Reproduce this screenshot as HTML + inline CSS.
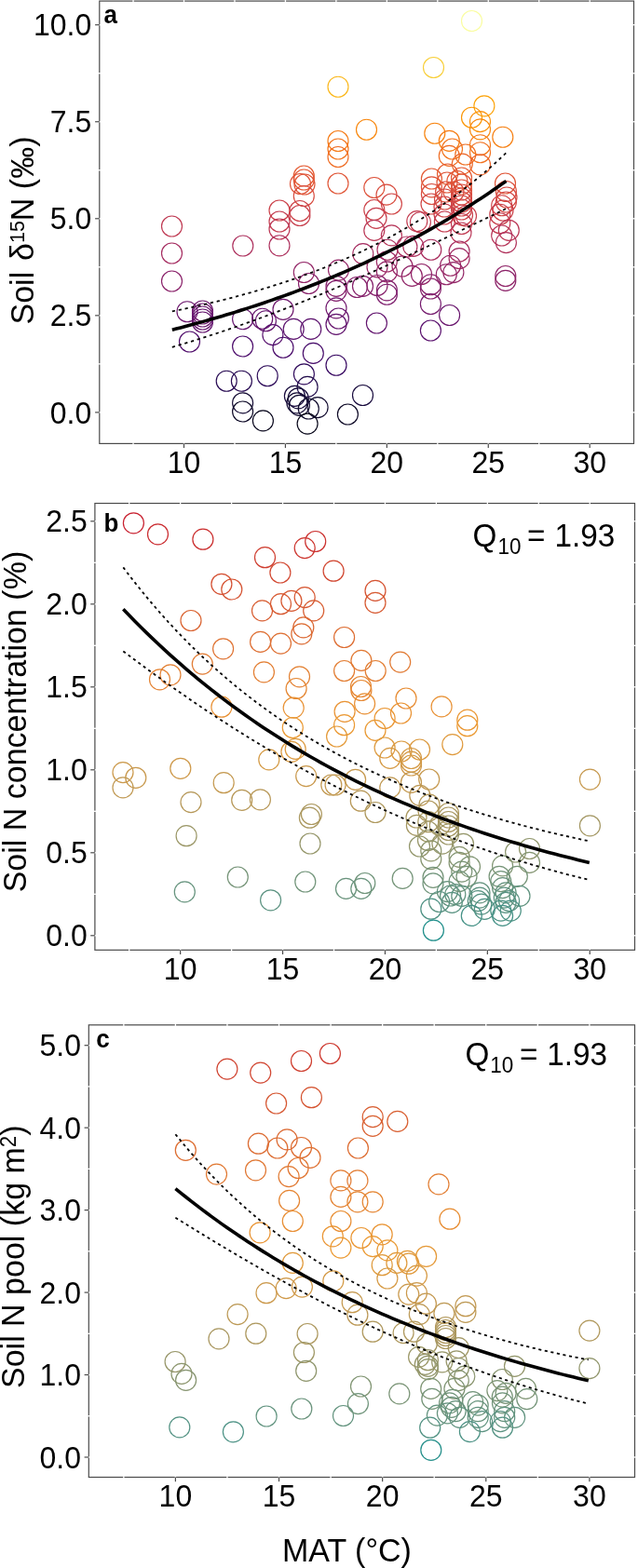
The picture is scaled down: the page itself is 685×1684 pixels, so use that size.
<!DOCTYPE html>
<html><head><meta charset="utf-8"><title>Soil N vs MAT</title>
<style>html,body{margin:0;padding:0;background:#fff;}body{width:685px;height:1684px;overflow:hidden;}</style>
</head><body>
<svg width="685" height="1684" viewBox="0 0 685 1684" style="display:block">
<rect width="685" height="1684" fill="#ffffff"/>
<g fill="none" stroke-width="1.15" stroke-opacity="1.00">
<circle cx="506.5" cy="22.5" r="11.0" stroke="#fafda1"/>
<circle cx="465.5" cy="72.5" r="11.0" stroke="#f8cf3a"/>
<circle cx="363.0" cy="93.2" r="11.0" stroke="#fbb81d"/>
<circle cx="393.5" cy="139.2" r="11.0" stroke="#f8870e"/>
<circle cx="363.0" cy="151.5" r="11.0" stroke="#f57b17"/>
<circle cx="363.0" cy="160.0" r="11.0" stroke="#f2741c"/>
<circle cx="363.0" cy="168.5" r="11.0" stroke="#ef6c23"/>
<circle cx="363.0" cy="197.0" r="11.0" stroke="#e05536"/>
<circle cx="466.8" cy="143.2" r="11.0" stroke="#f78410"/>
<circle cx="482.3" cy="151.3" r="11.0" stroke="#f57d15"/>
<circle cx="485.5" cy="160.0" r="11.0" stroke="#f2741c"/>
<circle cx="482.3" cy="167.4" r="11.0" stroke="#ef6c23"/>
<circle cx="499.8" cy="166.0" r="11.0" stroke="#ef6e21"/>
<circle cx="496.3" cy="176.1" r="11.0" stroke="#eb6628"/>
<circle cx="519.9" cy="113.8" r="11.0" stroke="#fca309"/>
<circle cx="506.5" cy="126.2" r="11.0" stroke="#fb9606"/>
<circle cx="515.5" cy="130.6" r="11.0" stroke="#fa9008"/>
<circle cx="515.5" cy="138.9" r="11.0" stroke="#f8890c"/>
<circle cx="539.8" cy="147.2" r="11.0" stroke="#f68013"/>
<circle cx="515.5" cy="155.7" r="11.0" stroke="#f37819"/>
<circle cx="515.5" cy="163.7" r="11.0" stroke="#f1711f"/>
<circle cx="515.5" cy="176.9" r="11.0" stroke="#eb6429"/>
<circle cx="326.3" cy="189.0" r="11.0" stroke="#e45a31"/>
<circle cx="326.3" cy="193.0" r="11.0" stroke="#e25734"/>
<circle cx="322.5" cy="197.5" r="11.0" stroke="#df5337"/>
<circle cx="327.0" cy="198.0" r="11.0" stroke="#df5337"/>
<circle cx="326.3" cy="210.5" r="11.0" stroke="#d74b3f"/>
<circle cx="321.9" cy="226.5" r="11.0" stroke="#cb4149"/>
<circle cx="321.9" cy="231.5" r="11.0" stroke="#c73e4c"/>
<circle cx="300.0" cy="226.0" r="11.0" stroke="#cb4149"/>
<circle cx="300.0" cy="238.0" r="11.0" stroke="#c33b4f"/>
<circle cx="300.0" cy="246.0" r="11.0" stroke="#bc3754"/>
<circle cx="300.0" cy="263.8" r="11.0" stroke="#ad305d"/>
<circle cx="260.8" cy="264.0" r="11.0" stroke="#ad305d"/>
<circle cx="184.5" cy="243.0" r="11.0" stroke="#bf3952"/>
<circle cx="184.5" cy="272.0" r="11.0" stroke="#a52c60"/>
<circle cx="184.5" cy="302.0" r="11.0" stroke="#8a226a"/>
<circle cx="401.8" cy="201.5" r="11.0" stroke="#dd513a"/>
<circle cx="415.0" cy="209.1" r="11.0" stroke="#d84c3e"/>
<circle cx="420.4" cy="219.0" r="11.0" stroke="#d04545"/>
<circle cx="401.8" cy="225.5" r="11.0" stroke="#cc4248"/>
<circle cx="404.0" cy="234.3" r="11.0" stroke="#c63d4d"/>
<circle cx="401.8" cy="247.4" r="11.0" stroke="#ba3655"/>
<circle cx="420.4" cy="252.9" r="11.0" stroke="#b63458"/>
<circle cx="389.8" cy="272.6" r="11.0" stroke="#a52c60"/>
<circle cx="416.0" cy="268.2" r="11.0" stroke="#a92e5e"/>
<circle cx="436.9" cy="265.0" r="11.0" stroke="#ab2f5e"/>
<circle cx="447.8" cy="237.6" r="11.0" stroke="#c33b4f"/>
<circle cx="326.3" cy="292.5" r="11.0" stroke="#932667"/>
<circle cx="363.5" cy="290.1" r="11.0" stroke="#952667"/>
<circle cx="405.0" cy="286.8" r="11.0" stroke="#982766"/>
<circle cx="415.3" cy="281.0" r="11.0" stroke="#9d2964"/>
<circle cx="432.0" cy="286.0" r="11.0" stroke="#982766"/>
<circle cx="463.4" cy="192.0" r="11.0" stroke="#e35933"/>
<circle cx="463.4" cy="200.8" r="11.0" stroke="#de5238"/>
<circle cx="463.4" cy="208.5" r="11.0" stroke="#d84c3e"/>
<circle cx="463.0" cy="219.0" r="11.0" stroke="#d04545"/>
<circle cx="451.4" cy="238.7" r="11.0" stroke="#c13a50"/>
<circle cx="443.8" cy="264.4" r="11.0" stroke="#ad305d"/>
<circle cx="462.8" cy="268.2" r="11.0" stroke="#a92e5e"/>
<circle cx="480.5" cy="187.0" r="11.0" stroke="#e55c30"/>
<circle cx="480.0" cy="196.0" r="11.0" stroke="#e05536"/>
<circle cx="478.6" cy="206.0" r="11.0" stroke="#da4e3c"/>
<circle cx="477.5" cy="214.0" r="11.0" stroke="#d44842"/>
<circle cx="477.0" cy="222.0" r="11.0" stroke="#cf4446"/>
<circle cx="477.0" cy="230.0" r="11.0" stroke="#c83f4b"/>
<circle cx="477.4" cy="238.0" r="11.0" stroke="#c33b4f"/>
<circle cx="487.0" cy="206.0" r="11.0" stroke="#da4e3c"/>
<circle cx="490.9" cy="194.5" r="11.0" stroke="#e15635"/>
<circle cx="495.5" cy="191.0" r="11.0" stroke="#e35933"/>
<circle cx="495.5" cy="198.0" r="11.0" stroke="#df5337"/>
<circle cx="495.5" cy="204.0" r="11.0" stroke="#db503b"/>
<circle cx="495.5" cy="209.0" r="11.0" stroke="#d84c3e"/>
<circle cx="495.5" cy="213.0" r="11.0" stroke="#d54a41"/>
<circle cx="495.5" cy="217.0" r="11.0" stroke="#d24644"/>
<circle cx="495.5" cy="221.0" r="11.0" stroke="#cf4446"/>
<circle cx="495.5" cy="225.0" r="11.0" stroke="#cc4248"/>
<circle cx="496.5" cy="231.0" r="11.0" stroke="#c83f4b"/>
<circle cx="500.5" cy="232.0" r="11.0" stroke="#c73e4c"/>
<circle cx="495.5" cy="240.5" r="11.0" stroke="#c03a51"/>
<circle cx="495.0" cy="250.0" r="11.0" stroke="#b93556"/>
<circle cx="542.5" cy="197.0" r="11.0" stroke="#e05536"/>
<circle cx="543.4" cy="205.5" r="11.0" stroke="#da4e3c"/>
<circle cx="544.0" cy="212.0" r="11.0" stroke="#d54a41"/>
<circle cx="543.4" cy="217.0" r="11.0" stroke="#d24644"/>
<circle cx="538.7" cy="220.7" r="11.0" stroke="#cf4446"/>
<circle cx="540.0" cy="226.0" r="11.0" stroke="#cb4149"/>
<circle cx="536.8" cy="230.2" r="11.0" stroke="#c83f4b"/>
<circle cx="536.8" cy="239.7" r="11.0" stroke="#c13a50"/>
<circle cx="546.3" cy="247.3" r="11.0" stroke="#ba3655"/>
<circle cx="538.7" cy="253.0" r="11.0" stroke="#b63458"/>
<circle cx="543.4" cy="260.6" r="11.0" stroke="#b0315b"/>
<circle cx="493.1" cy="270.0" r="11.0" stroke="#a62d60"/>
<circle cx="493.1" cy="277.6" r="11.0" stroke="#a02a63"/>
<circle cx="483.6" cy="285.2" r="11.0" stroke="#9a2865"/>
<circle cx="542.8" cy="296.5" r="11.0" stroke="#902568"/>
<circle cx="542.8" cy="301.3" r="11.0" stroke="#8c2369"/>
<circle cx="462.4" cy="355.0" r="11.0" stroke="#5a116e"/>
<circle cx="482.6" cy="338.5" r="11.0" stroke="#6a176e"/>
<circle cx="462.4" cy="326.5" r="11.0" stroke="#751b6e"/>
<circle cx="462.4" cy="310.0" r="11.0" stroke="#84206b"/>
<circle cx="462.4" cy="305.7" r="11.0" stroke="#87216b"/>
<circle cx="452.5" cy="294.5" r="11.0" stroke="#922568"/>
<circle cx="442.3" cy="296.3" r="11.0" stroke="#902568"/>
<circle cx="479.3" cy="294.7" r="11.0" stroke="#922568"/>
<circle cx="486.9" cy="292.6" r="11.0" stroke="#932667"/>
<circle cx="361.0" cy="307.3" r="11.0" stroke="#85216b"/>
<circle cx="361.0" cy="312.3" r="11.0" stroke="#82206c"/>
<circle cx="361.0" cy="330.9" r="11.0" stroke="#71196e"/>
<circle cx="363.4" cy="342.0" r="11.0" stroke="#67166e"/>
<circle cx="361.0" cy="348.3" r="11.0" stroke="#61136e"/>
<circle cx="383.3" cy="308.5" r="11.0" stroke="#85216b"/>
<circle cx="389.5" cy="307.3" r="11.0" stroke="#85216b"/>
<circle cx="405.0" cy="306.5" r="11.0" stroke="#87216b"/>
<circle cx="415.4" cy="291.9" r="11.0" stroke="#932667"/>
<circle cx="415.4" cy="311.8" r="11.0" stroke="#82206c"/>
<circle cx="415.4" cy="316.2" r="11.0" stroke="#7d1e6d"/>
<circle cx="404.4" cy="347.0" r="11.0" stroke="#62146e"/>
<circle cx="361.0" cy="392.2" r="11.0" stroke="#380962"/>
<circle cx="389.5" cy="424.5" r="11.0" stroke="#190c3e"/>
<circle cx="373.4" cy="445.0" r="11.0" stroke="#0b0724"/>
<circle cx="341.1" cy="437.6" r="11.0" stroke="#10092d"/>
<circle cx="201.0" cy="334.7" r="11.0" stroke="#6d186e"/>
<circle cx="217.5" cy="334.0" r="11.0" stroke="#6d186e"/>
<circle cx="217.5" cy="337.0" r="11.0" stroke="#6c186e"/>
<circle cx="217.5" cy="340.0" r="11.0" stroke="#69166e"/>
<circle cx="217.5" cy="343.0" r="11.0" stroke="#65156e"/>
<circle cx="217.5" cy="346.0" r="11.0" stroke="#64156e"/>
<circle cx="203.5" cy="367.0" r="11.0" stroke="#510e6c"/>
<circle cx="260.6" cy="342.7" r="11.0" stroke="#65156e"/>
<circle cx="260.6" cy="372.0" r="11.0" stroke="#4c0c6b"/>
<circle cx="281.7" cy="342.2" r="11.0" stroke="#67166e"/>
<circle cx="285.4" cy="344.7" r="11.0" stroke="#64156e"/>
<circle cx="304.0" cy="332.3" r="11.0" stroke="#6f196e"/>
<circle cx="292.9" cy="359.6" r="11.0" stroke="#57106e"/>
<circle cx="315.2" cy="353.4" r="11.0" stroke="#5c126e"/>
<circle cx="304.0" cy="373.2" r="11.0" stroke="#4a0c6b"/>
<circle cx="333.8" cy="353.4" r="11.0" stroke="#5c126e"/>
<circle cx="336.3" cy="379.4" r="11.0" stroke="#450a69"/>
<circle cx="331.5" cy="304.5" r="11.0" stroke="#88226a"/>
<circle cx="243.2" cy="409.2" r="11.0" stroke="#280b53"/>
<circle cx="259.4" cy="409.2" r="11.0" stroke="#280b53"/>
<circle cx="287.2" cy="403.7" r="11.0" stroke="#2d0b59"/>
<circle cx="260.6" cy="432.8" r="11.0" stroke="#140b34"/>
<circle cx="260.6" cy="442.0" r="11.0" stroke="#0c0826"/>
<circle cx="282.4" cy="451.9" r="11.0" stroke="#07051b"/>
<circle cx="326.4" cy="401.8" r="11.0" stroke="#2f0a5b"/>
<circle cx="330.1" cy="415.4" r="11.0" stroke="#210c4a"/>
<circle cx="316.4" cy="425.3" r="11.0" stroke="#190c3e"/>
<circle cx="320.2" cy="427.8" r="11.0" stroke="#160b39"/>
<circle cx="318.9" cy="432.8" r="11.0" stroke="#140b34"/>
<circle cx="321.4" cy="435.3" r="11.0" stroke="#110a30"/>
<circle cx="331.3" cy="439.0" r="11.0" stroke="#0e092b"/>
<circle cx="330.1" cy="455.1" r="11.0" stroke="#050417"/>
</g>
<polyline fill="none" stroke="#000" stroke-width="1.75" stroke-dasharray="3.2 3.8" points="184.86,334.39 189.35,333.48 193.83,332.56 198.31,331.62 202.79,330.67 207.28,329.69 211.76,328.70 216.24,327.69 220.72,326.65 225.21,325.60 229.69,324.53 234.17,323.44 238.65,322.33 243.13,321.19 247.62,320.04 252.10,318.86 256.58,317.66 261.06,316.44 265.55,315.20 270.03,313.93 274.51,312.63 278.99,311.32 283.47,309.97 287.96,308.60 292.44,307.21 296.92,305.79 301.40,304.34 305.89,302.87 310.37,301.36 314.85,299.83 319.33,298.27 323.81,296.67 328.30,295.05 332.78,293.40 337.26,291.71 341.74,289.99 346.23,288.24 350.71,286.46 355.19,284.64 359.67,282.78 364.16,280.89 368.64,278.96 373.12,276.99 377.60,274.99 382.08,272.95 386.57,270.86 391.05,268.74 395.53,266.57 400.01,264.36 404.50,262.11 408.98,259.81 413.46,257.47 417.94,255.08 422.42,252.64 426.91,250.15 431.39,247.62 435.87,245.03 440.35,242.39 444.84,239.70 449.32,236.95 453.80,234.15 458.28,231.29 462.77,228.38 467.25,225.40 471.73,222.36 476.21,219.26 480.69,216.10 485.18,212.87 489.66,209.58 494.14,206.21 498.62,202.78 503.11,199.28 507.59,195.70 512.07,192.05 516.55,188.32 521.03,184.52 525.52,180.63 530.00,176.66 534.48,172.61 538.96,168.47 543.45,164.25"/>
<polyline fill="none" stroke="#000" stroke-width="1.75" stroke-dasharray="3.2 3.8" points="184.86,372.81 189.35,371.50 193.83,370.17 198.31,368.82 202.79,367.46 207.28,366.09 211.76,364.69 216.24,363.28 220.72,361.85 225.21,360.41 229.69,358.95 234.17,357.47 238.65,355.98 243.13,354.47 247.62,352.94 252.10,351.40 256.58,349.84 261.06,348.26 265.55,346.67 270.03,345.06 274.51,343.44 278.99,341.80 283.47,340.14 287.96,338.47 292.44,336.79 296.92,335.08 301.40,333.37 305.89,331.63 310.37,329.88 314.85,328.12 319.33,326.34 323.81,324.55 328.30,322.74 332.78,320.92 337.26,319.09 341.74,317.24 346.23,315.37 350.71,313.50 355.19,311.61 359.67,309.70 364.16,307.79 368.64,305.86 373.12,303.92 377.60,301.96 382.08,300.00 386.57,298.02 391.05,296.03 395.53,294.04 400.01,292.03 404.50,290.00 408.98,287.97 413.46,285.93 417.94,283.88 422.42,281.82 426.91,279.76 431.39,277.68 435.87,275.60 440.35,273.50 444.84,271.40 449.32,269.29 453.80,267.18 458.28,265.06 462.77,262.93 467.25,260.80 471.73,258.66 476.21,256.52 480.69,254.38 485.18,252.23 489.66,250.07 494.14,247.92 498.62,245.76 503.11,243.59 507.59,241.43 512.07,239.27 516.55,237.10 521.03,234.93 525.52,232.77 530.00,230.60 534.48,228.44 538.96,226.28 543.45,224.11"/>
<polyline fill="none" stroke="#000" stroke-width="3.6" points="184.86,354.25 189.35,353.10 193.83,351.93 198.31,350.75 202.79,349.56 207.28,348.35 211.76,347.12 216.24,345.88 220.72,344.62 225.21,343.35 229.69,342.06 234.17,340.75 238.65,339.43 243.13,338.09 247.62,336.73 252.10,335.35 256.58,333.96 261.06,332.54 265.55,331.11 270.03,329.66 274.51,328.19 278.99,326.71 283.47,325.20 287.96,323.67 292.44,322.13 296.92,320.56 301.40,318.98 305.89,317.37 310.37,315.74 314.85,314.09 319.33,312.42 323.81,310.73 328.30,309.02 332.78,307.28 337.26,305.52 341.74,303.74 346.23,301.94 350.71,300.11 355.19,298.26 359.67,296.39 364.16,294.49 368.64,292.56 373.12,290.61 377.60,288.64 382.08,286.64 386.57,284.61 391.05,282.56 395.53,280.48 400.01,278.37 404.50,276.24 408.98,274.08 413.46,271.89 417.94,269.67 422.42,267.43 426.91,265.15 431.39,262.85 435.87,260.51 440.35,258.15 444.84,255.75 449.32,253.33 453.80,250.87 458.28,248.38 462.77,245.86 467.25,243.30 471.73,240.72 476.21,238.09 480.69,235.44 485.18,232.75 489.66,230.03 494.14,227.27 498.62,224.47 503.11,221.64 507.59,218.77 512.07,215.86 516.55,212.92 521.03,209.94 525.52,206.92 530.00,203.86 534.48,200.76 538.96,197.62 543.45,194.44"/>
<rect x="106.80" y="1.10" width="573.70" height="475.30" fill="none" stroke="#4a4a4a" stroke-width="1.2"/>
<g stroke="#fff" stroke-width="1.3">
<line x1="143.04" y1="-0.10" x2="143.04" y2="2.30"/>
<line x1="143.04" y1="475.20" x2="143.04" y2="477.60"/>
<line x1="197.50" y1="-0.10" x2="197.50" y2="2.30"/>
<line x1="197.50" y1="475.20" x2="197.50" y2="477.60"/>
<line x1="251.96" y1="-0.10" x2="251.96" y2="2.30"/>
<line x1="251.96" y1="475.20" x2="251.96" y2="477.60"/>
<line x1="306.43" y1="-0.10" x2="306.43" y2="2.30"/>
<line x1="306.43" y1="475.20" x2="306.43" y2="477.60"/>
<line x1="360.89" y1="-0.10" x2="360.89" y2="2.30"/>
<line x1="360.89" y1="475.20" x2="360.89" y2="477.60"/>
<line x1="415.35" y1="-0.10" x2="415.35" y2="2.30"/>
<line x1="415.35" y1="475.20" x2="415.35" y2="477.60"/>
<line x1="469.81" y1="-0.10" x2="469.81" y2="2.30"/>
<line x1="469.81" y1="475.20" x2="469.81" y2="477.60"/>
<line x1="524.27" y1="-0.10" x2="524.27" y2="2.30"/>
<line x1="524.27" y1="475.20" x2="524.27" y2="477.60"/>
<line x1="578.74" y1="-0.10" x2="578.74" y2="2.30"/>
<line x1="578.74" y1="475.20" x2="578.74" y2="477.60"/>
<line x1="633.20" y1="-0.10" x2="633.20" y2="2.30"/>
<line x1="633.20" y1="475.20" x2="633.20" y2="477.60"/>
<line x1="105.60" y1="442.90" x2="108.00" y2="442.90"/>
<line x1="679.30" y1="442.90" x2="681.70" y2="442.90"/>
<line x1="105.60" y1="390.88" x2="108.00" y2="390.88"/>
<line x1="679.30" y1="390.88" x2="681.70" y2="390.88"/>
<line x1="105.60" y1="338.85" x2="108.00" y2="338.85"/>
<line x1="679.30" y1="338.85" x2="681.70" y2="338.85"/>
<line x1="105.60" y1="286.82" x2="108.00" y2="286.82"/>
<line x1="679.30" y1="286.82" x2="681.70" y2="286.82"/>
<line x1="105.60" y1="234.80" x2="108.00" y2="234.80"/>
<line x1="679.30" y1="234.80" x2="681.70" y2="234.80"/>
<line x1="105.60" y1="182.77" x2="108.00" y2="182.77"/>
<line x1="679.30" y1="182.77" x2="681.70" y2="182.77"/>
<line x1="105.60" y1="130.75" x2="108.00" y2="130.75"/>
<line x1="679.30" y1="130.75" x2="681.70" y2="130.75"/>
<line x1="105.60" y1="78.73" x2="108.00" y2="78.73"/>
<line x1="679.30" y1="78.73" x2="681.70" y2="78.73"/>
<line x1="105.60" y1="26.70" x2="108.00" y2="26.70"/>
<line x1="679.30" y1="26.70" x2="681.70" y2="26.70"/>
</g>
<g stroke="#4a4a4a" stroke-width="1.2">
<line x1="197.50" y1="476.40" x2="197.50" y2="481.10"/>
<line x1="306.43" y1="476.40" x2="306.43" y2="481.10"/>
<line x1="415.35" y1="476.40" x2="415.35" y2="481.10"/>
<line x1="524.27" y1="476.40" x2="524.27" y2="481.10"/>
<line x1="633.20" y1="476.40" x2="633.20" y2="481.10"/>
<line x1="102.10" y1="442.90" x2="106.80" y2="442.90"/>
<line x1="102.10" y1="338.85" x2="106.80" y2="338.85"/>
<line x1="102.10" y1="234.80" x2="106.80" y2="234.80"/>
<line x1="102.10" y1="130.75" x2="106.80" y2="130.75"/>
<line x1="102.10" y1="26.70" x2="106.80" y2="26.70"/>
</g>
<g font-family='"Liberation Sans", Arial, Helvetica, sans-serif' font-size="32" fill="#000">
<text transform="translate(197.50,508.20) scale(0.9569,1)" font-size="33.44" text-anchor="middle">10</text>
<text transform="translate(306.43,508.20) scale(0.9569,1)" font-size="33.44" text-anchor="middle">15</text>
<text transform="translate(415.35,508.20) scale(0.9569,1)" font-size="33.44" text-anchor="middle">20</text>
<text transform="translate(524.27,508.20) scale(0.9569,1)" font-size="33.44" text-anchor="middle">25</text>
<text transform="translate(633.20,508.20) scale(0.9569,1)" font-size="33.44" text-anchor="middle">30</text>
<text transform="translate(98.20,454.50) scale(0.9569,1)" font-size="33.44" text-anchor="end">0.0</text>
<text transform="translate(98.20,350.45) scale(0.9569,1)" font-size="33.44" text-anchor="end">2.5</text>
<text transform="translate(98.20,246.40) scale(0.9569,1)" font-size="33.44" text-anchor="end">5.0</text>
<text transform="translate(98.20,142.35) scale(0.9569,1)" font-size="33.44" text-anchor="end">7.5</text>
<text transform="translate(98.20,38.30) scale(0.9569,1)" font-size="33.44" text-anchor="end">10.0</text>
</g>
<g fill="none" stroke-width="1.20" stroke-opacity="1.00">
<circle cx="143.4" cy="561.8" r="11.0" stroke="#c8202f"/>
<circle cx="169.5" cy="573.8" r="11.0" stroke="#ca2b2f"/>
<circle cx="217.9" cy="579.2" r="11.0" stroke="#cb3030"/>
<circle cx="284.5" cy="598.7" r="11.0" stroke="#cf3e30"/>
<circle cx="300.9" cy="615.0" r="11.0" stroke="#d24831"/>
<circle cx="237.9" cy="627.3" r="11.0" stroke="#d44f31"/>
<circle cx="248.8" cy="633.0" r="11.0" stroke="#d55231"/>
<circle cx="327.2" cy="588.6" r="11.0" stroke="#cd3730"/>
<circle cx="338.7" cy="581.5" r="11.0" stroke="#cc3230"/>
<circle cx="358.1" cy="613.2" r="11.0" stroke="#d14731"/>
<circle cx="403.0" cy="634.4" r="11.0" stroke="#d55331"/>
<circle cx="403.0" cy="647.3" r="11.0" stroke="#d75a32"/>
<circle cx="205.0" cy="666.5" r="11.0" stroke="#da6432"/>
<circle cx="281.5" cy="655.9" r="11.0" stroke="#d85e32"/>
<circle cx="301.5" cy="648.7" r="11.0" stroke="#d75a32"/>
<circle cx="312.9" cy="645.3" r="11.0" stroke="#d75932"/>
<circle cx="327.2" cy="641.6" r="11.0" stroke="#d65732"/>
<circle cx="336.7" cy="655.9" r="11.0" stroke="#d85e32"/>
<circle cx="325.8" cy="673.9" r="11.0" stroke="#db6732"/>
<circle cx="323.8" cy="680.8" r="11.0" stroke="#dc6b32"/>
<circle cx="369.6" cy="684.5" r="11.0" stroke="#dd6d32"/>
<circle cx="239.6" cy="696.8" r="11.0" stroke="#df7333"/>
<circle cx="217.3" cy="713.1" r="11.0" stroke="#e17b33"/>
<circle cx="279.6" cy="689.4" r="11.0" stroke="#de6f33"/>
<circle cx="301.5" cy="691.1" r="11.0" stroke="#de7033"/>
<circle cx="283.4" cy="721.9" r="11.0" stroke="#e37f33"/>
<circle cx="183.0" cy="724.8" r="11.0" stroke="#e38033"/>
<circle cx="171.5" cy="729.8" r="11.0" stroke="#e48333"/>
<circle cx="321.5" cy="726.8" r="11.0" stroke="#e38133"/>
<circle cx="318.1" cy="739.5" r="11.0" stroke="#e58733"/>
<circle cx="369.6" cy="720.5" r="11.0" stroke="#e37e33"/>
<circle cx="387.9" cy="709.4" r="11.0" stroke="#e17933"/>
<circle cx="403.2" cy="720.5" r="11.0" stroke="#e37e33"/>
<circle cx="429.7" cy="711.1" r="11.0" stroke="#e17a33"/>
<circle cx="387.5" cy="737.5" r="11.0" stroke="#e58633"/>
<circle cx="387.9" cy="741.5" r="11.0" stroke="#e68833"/>
<circle cx="474.1" cy="758.9" r="11.0" stroke="#e89033"/>
<circle cx="501.8" cy="773.2" r="11.0" stroke="#ea9733"/>
<circle cx="501.8" cy="779.7" r="11.0" stroke="#eb9a33"/>
<circle cx="436.0" cy="750.0" r="11.0" stroke="#e78c33"/>
<circle cx="430.5" cy="766.0" r="11.0" stroke="#e99333"/>
<circle cx="237.9" cy="759.2" r="11.0" stroke="#e89033"/>
<circle cx="288.8" cy="815.9" r="11.0" stroke="#d49a45"/>
<circle cx="132.0" cy="829.6" r="11.0" stroke="#cb994b"/>
<circle cx="145.8" cy="835.3" r="11.0" stroke="#c8994e"/>
<circle cx="132.0" cy="845.9" r="11.0" stroke="#c09953"/>
<circle cx="193.8" cy="825.3" r="11.0" stroke="#ce994a"/>
<circle cx="205.0" cy="861.6" r="11.0" stroke="#b69859"/>
<circle cx="240.2" cy="840.7" r="11.0" stroke="#c49950"/>
<circle cx="259.7" cy="859.3" r="11.0" stroke="#b79858"/>
<circle cx="279.4" cy="858.8" r="11.0" stroke="#b89858"/>
<circle cx="200.1" cy="897.7" r="11.0" stroke="#9b9767"/>
<circle cx="391.6" cy="755.8" r="11.0" stroke="#e88f33"/>
<circle cx="315.2" cy="760.1" r="11.0" stroke="#e89133"/>
<circle cx="370.1" cy="764.3" r="11.0" stroke="#e99333"/>
<circle cx="369.6" cy="778.7" r="11.0" stroke="#eb9933"/>
<circle cx="361.6" cy="791.0" r="11.0" stroke="#e49a39"/>
<circle cx="314.3" cy="781.5" r="11.0" stroke="#ea9a34"/>
<circle cx="317.2" cy="804.4" r="11.0" stroke="#dc9a40"/>
<circle cx="312.9" cy="807.3" r="11.0" stroke="#da9a41"/>
<circle cx="413.1" cy="771.5" r="11.0" stroke="#ea9633"/>
<circle cx="403.0" cy="784.4" r="11.0" stroke="#e99a35"/>
<circle cx="413.1" cy="803.0" r="11.0" stroke="#dd9a3f"/>
<circle cx="418.8" cy="814.4" r="11.0" stroke="#d59a45"/>
<circle cx="431.0" cy="807.0" r="11.0" stroke="#da9a41"/>
<circle cx="450.5" cy="805.0" r="11.0" stroke="#db9a40"/>
<circle cx="441.5" cy="814.5" r="11.0" stroke="#d59a45"/>
<circle cx="441.5" cy="818.2" r="11.0" stroke="#d39946"/>
<circle cx="441.5" cy="822.0" r="11.0" stroke="#d09948"/>
<circle cx="441.5" cy="840.3" r="11.0" stroke="#c49950"/>
<circle cx="460.7" cy="837.0" r="11.0" stroke="#c6994f"/>
<circle cx="418.8" cy="845.9" r="11.0" stroke="#c09953"/>
<circle cx="450.8" cy="854.3" r="11.0" stroke="#bb9856"/>
<circle cx="485.8" cy="799.6" r="11.0" stroke="#df9a3d"/>
<circle cx="328.7" cy="833.6" r="11.0" stroke="#c9994d"/>
<circle cx="355.8" cy="843.0" r="11.0" stroke="#c29951"/>
<circle cx="360.1" cy="843.0" r="11.0" stroke="#c29951"/>
<circle cx="381.6" cy="837.3" r="11.0" stroke="#c6994f"/>
<circle cx="387.3" cy="860.2" r="11.0" stroke="#b79858"/>
<circle cx="403.0" cy="872.5" r="11.0" stroke="#ae985d"/>
<circle cx="332.4" cy="878.2" r="11.0" stroke="#aa9860"/>
<circle cx="334.4" cy="874.5" r="11.0" stroke="#ac985e"/>
<circle cx="333.0" cy="906.0" r="11.0" stroke="#95966a"/>
<circle cx="198.3" cy="957.9" r="11.0" stroke="#65937d"/>
<circle cx="255.3" cy="942.0" r="11.0" stroke="#769478"/>
<circle cx="290.6" cy="966.8" r="11.0" stroke="#5b9280"/>
<circle cx="327.8" cy="947.0" r="11.0" stroke="#719479"/>
<circle cx="371.5" cy="954.4" r="11.0" stroke="#69937c"/>
<circle cx="387.8" cy="954.4" r="11.0" stroke="#69937c"/>
<circle cx="391.8" cy="948.5" r="11.0" stroke="#6f947a"/>
<circle cx="461.0" cy="864.1" r="11.0" stroke="#b4985a"/>
<circle cx="460.0" cy="871.0" r="11.0" stroke="#af985d"/>
<circle cx="447.0" cy="878.0" r="11.0" stroke="#aa9860"/>
<circle cx="447.4" cy="886.4" r="11.0" stroke="#a49763"/>
<circle cx="459.8" cy="882.7" r="11.0" stroke="#a69761"/>
<circle cx="459.5" cy="893.0" r="11.0" stroke="#9f9765"/>
<circle cx="459.5" cy="902.5" r="11.0" stroke="#979669"/>
<circle cx="450.5" cy="909.0" r="11.0" stroke="#92966b"/>
<circle cx="462.8" cy="913.8" r="11.0" stroke="#8e966d"/>
<circle cx="462.8" cy="922.6" r="11.0" stroke="#879570"/>
<circle cx="474.9" cy="906.1" r="11.0" stroke="#95966a"/>
<circle cx="472.2" cy="886.4" r="11.0" stroke="#a49763"/>
<circle cx="481.5" cy="873.5" r="11.0" stroke="#ad985e"/>
<circle cx="481.5" cy="878.0" r="11.0" stroke="#aa9860"/>
<circle cx="481.5" cy="882.5" r="11.0" stroke="#a79761"/>
<circle cx="481.5" cy="887.0" r="11.0" stroke="#a39763"/>
<circle cx="481.5" cy="891.5" r="11.0" stroke="#a09765"/>
<circle cx="481.5" cy="896.0" r="11.0" stroke="#9c9767"/>
<circle cx="465.0" cy="942.3" r="11.0" stroke="#759478"/>
<circle cx="465.0" cy="948.8" r="11.0" stroke="#6f947a"/>
<circle cx="432.2" cy="943.4" r="11.0" stroke="#749478"/>
<circle cx="480.4" cy="957.6" r="11.0" stroke="#66937d"/>
<circle cx="483.6" cy="962.0" r="11.0" stroke="#61937f"/>
<circle cx="471.6" cy="968.5" r="11.0" stroke="#599281"/>
<circle cx="462.8" cy="976.2" r="11.0" stroke="#4f9284"/>
<circle cx="465.4" cy="999.2" r="11.0" stroke="#22908c"/>
<circle cx="497.5" cy="906.3" r="11.0" stroke="#94966a"/>
<circle cx="493.1" cy="920.3" r="11.0" stroke="#899570"/>
<circle cx="493.1" cy="926.4" r="11.0" stroke="#849572"/>
<circle cx="504.5" cy="930.8" r="11.0" stroke="#809573"/>
<circle cx="495.8" cy="936.1" r="11.0" stroke="#7b9475"/>
<circle cx="501.0" cy="941.3" r="11.0" stroke="#769477"/>
<circle cx="493.1" cy="946.6" r="11.0" stroke="#719479"/>
<circle cx="488.8" cy="960.6" r="11.0" stroke="#62937e"/>
<circle cx="495.8" cy="962.3" r="11.0" stroke="#60937f"/>
<circle cx="485.3" cy="969.3" r="11.0" stroke="#589281"/>
<circle cx="515.0" cy="958.8" r="11.0" stroke="#64937e"/>
<circle cx="515.0" cy="964.1" r="11.0" stroke="#5e9380"/>
<circle cx="513.3" cy="967.6" r="11.0" stroke="#5a9281"/>
<circle cx="516.8" cy="971.1" r="11.0" stroke="#569282"/>
<circle cx="506.3" cy="983.4" r="11.0" stroke="#449186"/>
<circle cx="520.3" cy="976.4" r="11.0" stroke="#4f9284"/>
<circle cx="553.6" cy="915.0" r="11.0" stroke="#8d966e"/>
<circle cx="568.5" cy="911.5" r="11.0" stroke="#90966c"/>
<circle cx="568.5" cy="926.4" r="11.0" stroke="#849572"/>
<circle cx="539.6" cy="929.9" r="11.0" stroke="#819573"/>
<circle cx="555.3" cy="941.3" r="11.0" stroke="#769477"/>
<circle cx="536.1" cy="941.3" r="11.0" stroke="#769477"/>
<circle cx="537.8" cy="946.6" r="11.0" stroke="#719479"/>
<circle cx="539.6" cy="953.6" r="11.0" stroke="#6a937c"/>
<circle cx="543.1" cy="958.8" r="11.0" stroke="#64937e"/>
<circle cx="541.3" cy="964.1" r="11.0" stroke="#5e9380"/>
<circle cx="543.1" cy="969.3" r="11.0" stroke="#589281"/>
<circle cx="546.6" cy="967.6" r="11.0" stroke="#5a9281"/>
<circle cx="558.0" cy="962.3" r="11.0" stroke="#60937f"/>
<circle cx="537.8" cy="978.1" r="11.0" stroke="#4c9284"/>
<circle cx="539.6" cy="983.4" r="11.0" stroke="#449186"/>
<circle cx="548.3" cy="978.1" r="11.0" stroke="#4c9284"/>
<circle cx="633.4" cy="837.1" r="11.0" stroke="#c6994f"/>
<circle cx="633.4" cy="886.8" r="11.0" stroke="#a39763"/>
</g>
<polyline fill="none" stroke="#000" stroke-width="1.80" stroke-dasharray="3.1 3.6" points="132.33,609.35 138.58,617.62 144.84,625.67 151.09,633.51 157.35,641.15 163.61,648.60 169.86,655.86 176.12,662.94 182.37,669.84 188.63,676.57 194.89,683.12 201.14,689.52 207.40,695.75 213.65,701.83 219.91,707.76 226.17,713.54 232.42,719.18 238.68,724.68 244.93,730.05 251.19,735.29 257.45,740.40 263.70,745.38 269.96,750.25 276.22,755.00 282.47,759.63 288.73,764.15 294.98,768.57 301.24,772.88 307.50,777.09 313.75,781.19 320.01,785.21 326.26,789.12 332.52,792.95 338.78,796.68 345.03,800.33 351.29,803.90 357.54,807.38 363.80,810.78 370.06,814.10 376.31,817.34 382.57,820.52 388.82,823.61 395.08,826.64 401.34,829.60 407.59,832.50 413.85,835.32 420.10,838.09 426.36,840.79 432.62,843.43 438.87,846.01 445.13,848.53 451.38,851.00 457.64,853.41 463.90,855.77 470.15,858.08 476.41,860.34 482.67,862.55 488.92,864.71 495.18,866.82 501.43,868.89 507.69,870.91 513.95,872.88 520.20,874.82 526.46,876.71 532.71,878.57 538.97,880.38 545.23,882.15 551.48,883.89 557.74,885.59 563.99,887.25 570.25,888.88 576.51,890.47 582.76,892.03 589.02,893.56 595.27,895.06 601.53,896.52 607.79,897.95 614.04,899.36 620.30,900.73 626.55,902.07 632.81,903.39"/>
<polyline fill="none" stroke="#000" stroke-width="1.80" stroke-dasharray="3.1 3.6" points="132.33,699.43 138.58,704.14 144.84,708.82 151.09,713.45 157.35,718.05 163.61,722.61 169.86,727.14 176.12,731.62 182.37,736.06 188.63,740.47 194.89,744.83 201.14,749.16 207.40,753.44 213.65,757.68 219.91,761.88 226.17,766.04 232.42,770.15 238.68,774.22 244.93,778.25 251.19,782.24 257.45,786.18 263.70,790.08 269.96,793.94 276.22,797.75 282.47,801.52 288.73,805.24 294.98,808.92 301.24,812.56 307.50,816.15 313.75,819.69 320.01,823.20 326.26,826.66 332.52,830.07 338.78,833.44 345.03,836.76 351.29,840.04 357.54,843.28 363.80,846.47 370.06,849.62 376.31,852.73 382.57,855.79 388.82,858.80 395.08,861.78 401.34,864.71 407.59,867.59 413.85,870.44 420.10,873.24 426.36,876.00 432.62,878.71 438.87,881.39 445.13,884.02 451.38,886.61 457.64,889.16 463.90,891.67 470.15,894.13 476.41,896.56 482.67,898.95 488.92,901.29 495.18,903.60 501.43,905.87 507.69,908.10 513.95,910.29 520.20,912.44 526.46,914.55 532.71,916.63 538.97,918.67 545.23,920.67 551.48,922.64 557.74,924.57 563.99,926.46 570.25,928.32 576.51,930.15 582.76,931.93 589.02,933.69 595.27,935.41 601.53,937.10 607.79,938.75 614.04,940.38 620.30,941.97 626.55,943.53 632.81,945.05"/>
<polyline fill="none" stroke="#000" stroke-width="3.6" points="132.33,654.34 138.58,660.84 144.84,667.21 151.09,673.47 157.35,679.62 163.61,685.65 169.86,691.56 176.12,697.37 182.37,703.07 188.63,708.66 194.89,714.15 201.14,719.54 207.40,724.83 213.65,730.02 219.91,735.12 226.17,740.12 232.42,745.02 238.68,749.84 244.93,754.57 251.19,759.21 257.45,763.76 263.70,768.23 269.96,772.61 276.22,776.92 282.47,781.14 288.73,785.29 294.98,789.36 301.24,793.35 307.50,797.27 313.75,801.12 320.01,804.90 326.26,808.60 332.52,812.24 338.78,815.81 345.03,819.32 351.29,822.76 357.54,826.13 363.80,829.44 370.06,832.69 376.31,835.88 382.57,839.02 388.82,842.09 395.08,845.11 401.34,848.07 407.59,850.97 413.85,853.83 420.10,856.62 426.36,859.37 432.62,862.07 438.87,864.71 445.13,867.31 451.38,869.86 457.64,872.36 463.90,874.82 470.15,877.23 476.41,879.59 482.67,881.91 488.92,884.19 495.18,886.43 501.43,888.62 507.69,890.78 513.95,892.89 520.20,894.97 526.46,897.00 532.71,899.00 538.97,900.96 545.23,902.89 551.48,904.78 557.74,906.63 563.99,908.45 570.25,910.24 576.51,911.99 582.76,913.71 589.02,915.40 595.27,917.06 601.53,918.68 607.79,920.28 614.04,921.85 620.30,923.39 626.55,924.90 632.81,926.38"/>
<rect x="101.90" y="540.55" width="579.60" height="479.75" fill="none" stroke="#4a4a4a" stroke-width="1.2"/>
<g stroke="#fff" stroke-width="1.3">
<line x1="138.70" y1="539.35" x2="138.70" y2="541.75"/>
<line x1="138.70" y1="1019.10" x2="138.70" y2="1021.50"/>
<line x1="193.65" y1="539.35" x2="193.65" y2="541.75"/>
<line x1="193.65" y1="1019.10" x2="193.65" y2="1021.50"/>
<line x1="248.60" y1="539.35" x2="248.60" y2="541.75"/>
<line x1="248.60" y1="1019.10" x2="248.60" y2="1021.50"/>
<line x1="303.55" y1="539.35" x2="303.55" y2="541.75"/>
<line x1="303.55" y1="1019.10" x2="303.55" y2="1021.50"/>
<line x1="358.50" y1="539.35" x2="358.50" y2="541.75"/>
<line x1="358.50" y1="1019.10" x2="358.50" y2="1021.50"/>
<line x1="413.45" y1="539.35" x2="413.45" y2="541.75"/>
<line x1="413.45" y1="1019.10" x2="413.45" y2="1021.50"/>
<line x1="468.40" y1="539.35" x2="468.40" y2="541.75"/>
<line x1="468.40" y1="1019.10" x2="468.40" y2="1021.50"/>
<line x1="523.35" y1="539.35" x2="523.35" y2="541.75"/>
<line x1="523.35" y1="1019.10" x2="523.35" y2="1021.50"/>
<line x1="578.30" y1="539.35" x2="578.30" y2="541.75"/>
<line x1="578.30" y1="1019.10" x2="578.30" y2="1021.50"/>
<line x1="633.25" y1="539.35" x2="633.25" y2="541.75"/>
<line x1="633.25" y1="1019.10" x2="633.25" y2="1021.50"/>
<line x1="100.70" y1="1004.80" x2="103.10" y2="1004.80"/>
<line x1="680.30" y1="1004.80" x2="682.70" y2="1004.80"/>
<line x1="100.70" y1="960.30" x2="103.10" y2="960.30"/>
<line x1="680.30" y1="960.30" x2="682.70" y2="960.30"/>
<line x1="100.70" y1="915.80" x2="103.10" y2="915.80"/>
<line x1="680.30" y1="915.80" x2="682.70" y2="915.80"/>
<line x1="100.70" y1="871.30" x2="103.10" y2="871.30"/>
<line x1="680.30" y1="871.30" x2="682.70" y2="871.30"/>
<line x1="100.70" y1="826.80" x2="103.10" y2="826.80"/>
<line x1="680.30" y1="826.80" x2="682.70" y2="826.80"/>
<line x1="100.70" y1="782.30" x2="103.10" y2="782.30"/>
<line x1="680.30" y1="782.30" x2="682.70" y2="782.30"/>
<line x1="100.70" y1="737.80" x2="103.10" y2="737.80"/>
<line x1="680.30" y1="737.80" x2="682.70" y2="737.80"/>
<line x1="100.70" y1="693.30" x2="103.10" y2="693.30"/>
<line x1="680.30" y1="693.30" x2="682.70" y2="693.30"/>
<line x1="100.70" y1="648.80" x2="103.10" y2="648.80"/>
<line x1="680.30" y1="648.80" x2="682.70" y2="648.80"/>
<line x1="100.70" y1="604.30" x2="103.10" y2="604.30"/>
<line x1="680.30" y1="604.30" x2="682.70" y2="604.30"/>
<line x1="100.70" y1="559.80" x2="103.10" y2="559.80"/>
<line x1="680.30" y1="559.80" x2="682.70" y2="559.80"/>
</g>
<g stroke="#4a4a4a" stroke-width="1.2">
<line x1="193.65" y1="1020.30" x2="193.65" y2="1025.00"/>
<line x1="303.55" y1="1020.30" x2="303.55" y2="1025.00"/>
<line x1="413.45" y1="1020.30" x2="413.45" y2="1025.00"/>
<line x1="523.35" y1="1020.30" x2="523.35" y2="1025.00"/>
<line x1="633.25" y1="1020.30" x2="633.25" y2="1025.00"/>
<line x1="97.20" y1="1004.80" x2="101.90" y2="1004.80"/>
<line x1="97.20" y1="915.80" x2="101.90" y2="915.80"/>
<line x1="97.20" y1="826.80" x2="101.90" y2="826.80"/>
<line x1="97.20" y1="737.80" x2="101.90" y2="737.80"/>
<line x1="97.20" y1="648.80" x2="101.90" y2="648.80"/>
<line x1="97.20" y1="559.80" x2="101.90" y2="559.80"/>
</g>
<g font-family='"Liberation Sans", Arial, Helvetica, sans-serif' font-size="32" fill="#000">
<text transform="translate(193.65,1052.00) scale(0.9569,1)" font-size="33.44" text-anchor="middle">10</text>
<text transform="translate(303.55,1052.00) scale(0.9569,1)" font-size="33.44" text-anchor="middle">15</text>
<text transform="translate(413.45,1052.00) scale(0.9569,1)" font-size="33.44" text-anchor="middle">20</text>
<text transform="translate(523.35,1052.00) scale(0.9569,1)" font-size="33.44" text-anchor="middle">25</text>
<text transform="translate(633.25,1052.00) scale(0.9569,1)" font-size="33.44" text-anchor="middle">30</text>
<text transform="translate(93.70,1016.40) scale(0.9569,1)" font-size="33.44" text-anchor="end">0.0</text>
<text transform="translate(93.70,927.40) scale(0.9569,1)" font-size="33.44" text-anchor="end">0.5</text>
<text transform="translate(93.70,838.40) scale(0.9569,1)" font-size="33.44" text-anchor="end">1.0</text>
<text transform="translate(93.70,749.40) scale(0.9569,1)" font-size="33.44" text-anchor="end">1.5</text>
<text transform="translate(93.70,660.40) scale(0.9569,1)" font-size="33.44" text-anchor="end">2.0</text>
<text transform="translate(93.70,571.40) scale(0.9569,1)" font-size="33.44" text-anchor="end">2.5</text>
</g>
<g fill="none" stroke-width="1.20" stroke-opacity="1.00">
<circle cx="243.9" cy="1148.1" r="11.0" stroke="#d04431"/>
<circle cx="279.7" cy="1152.1" r="11.0" stroke="#d14631"/>
<circle cx="199.3" cy="1235.3" r="11.0" stroke="#dd6e32"/>
<circle cx="232.5" cy="1261.1" r="11.0" stroke="#e17933"/>
<circle cx="277.4" cy="1228.2" r="11.0" stroke="#dc6b32"/>
<circle cx="274.5" cy="1256.8" r="11.0" stroke="#e07733"/>
<circle cx="323.5" cy="1139.5" r="11.0" stroke="#cf3f30"/>
<circle cx="354.4" cy="1131.5" r="11.0" stroke="#ce3a30"/>
<circle cx="296.6" cy="1185.0" r="11.0" stroke="#d65732"/>
<circle cx="334.4" cy="1178.7" r="11.0" stroke="#d55431"/>
<circle cx="400.2" cy="1199.6" r="11.0" stroke="#d85e32"/>
<circle cx="400.2" cy="1209.3" r="11.0" stroke="#da6232"/>
<circle cx="426.8" cy="1204.4" r="11.0" stroke="#d96032"/>
<circle cx="297.8" cy="1233.0" r="11.0" stroke="#dd6d32"/>
<circle cx="308.1" cy="1223.9" r="11.0" stroke="#dc6932"/>
<circle cx="323.5" cy="1232.5" r="11.0" stroke="#dd6d32"/>
<circle cx="333.0" cy="1243.3" r="11.0" stroke="#df7133"/>
<circle cx="320.1" cy="1254.5" r="11.0" stroke="#e07633"/>
<circle cx="310.1" cy="1263.6" r="11.0" stroke="#e17a33"/>
<circle cx="384.4" cy="1233.0" r="11.0" stroke="#dd6d32"/>
<circle cx="365.9" cy="1267.9" r="11.0" stroke="#e27c33"/>
<circle cx="383.9" cy="1267.9" r="11.0" stroke="#e27c33"/>
<circle cx="365.9" cy="1285.4" r="11.0" stroke="#e48333"/>
<circle cx="383.9" cy="1290.8" r="11.0" stroke="#e58633"/>
<circle cx="400.2" cy="1290.8" r="11.0" stroke="#e58633"/>
<circle cx="310.6" cy="1289.4" r="11.0" stroke="#e58533"/>
<circle cx="471.0" cy="1271.9" r="11.0" stroke="#e27e33"/>
<circle cx="482.9" cy="1309.2" r="11.0" stroke="#e78d33"/>
<circle cx="457.6" cy="1349.3" r="11.0" stroke="#e59a39"/>
<circle cx="279.1" cy="1323.8" r="11.0" stroke="#e99433"/>
<circle cx="286.0" cy="1388.7" r="11.0" stroke="#cb994c"/>
<circle cx="255.1" cy="1411.6" r="11.0" stroke="#bc9955"/>
<circle cx="274.8" cy="1432.2" r="11.0" stroke="#ad985e"/>
<circle cx="235.0" cy="1437.9" r="11.0" stroke="#a99760"/>
<circle cx="188.1" cy="1462.5" r="11.0" stroke="#979669"/>
<circle cx="195.0" cy="1475.4" r="11.0" stroke="#8c966e"/>
<circle cx="199.6" cy="1482.3" r="11.0" stroke="#879571"/>
<circle cx="314.3" cy="1311.5" r="11.0" stroke="#e88e33"/>
<circle cx="365.9" cy="1311.5" r="11.0" stroke="#e88e33"/>
<circle cx="357.3" cy="1327.8" r="11.0" stroke="#ea9533"/>
<circle cx="365.9" cy="1340.1" r="11.0" stroke="#eb9a33"/>
<circle cx="387.9" cy="1329.5" r="11.0" stroke="#ea9633"/>
<circle cx="410.2" cy="1325.8" r="11.0" stroke="#e99433"/>
<circle cx="400.2" cy="1338.6" r="11.0" stroke="#eb9a33"/>
<circle cx="415.9" cy="1342.9" r="11.0" stroke="#e99a35"/>
<circle cx="425.9" cy="1356.4" r="11.0" stroke="#e09a3c"/>
<circle cx="410.2" cy="1358.7" r="11.0" stroke="#df9a3d"/>
<circle cx="437.4" cy="1354.4" r="11.0" stroke="#e29a3b"/>
<circle cx="438.8" cy="1357.2" r="11.0" stroke="#e09a3d"/>
<circle cx="447.4" cy="1370.1" r="11.0" stroke="#d79a43"/>
<circle cx="415.9" cy="1373.0" r="11.0" stroke="#d69a44"/>
<circle cx="314.3" cy="1356.4" r="11.0" stroke="#e09a3c"/>
<circle cx="357.8" cy="1375.8" r="11.0" stroke="#d49a46"/>
<circle cx="307.2" cy="1383.6" r="11.0" stroke="#cf9949"/>
<circle cx="324.4" cy="1382.1" r="11.0" stroke="#d09949"/>
<circle cx="378.2" cy="1398.7" r="11.0" stroke="#c59950"/>
<circle cx="383.9" cy="1412.2" r="11.0" stroke="#bb9856"/>
<circle cx="438.8" cy="1390.1" r="11.0" stroke="#ca994c"/>
<circle cx="447.4" cy="1388.7" r="11.0" stroke="#cb994c"/>
<circle cx="457.4" cy="1400.2" r="11.0" stroke="#c49951"/>
<circle cx="450.3" cy="1411.6" r="11.0" stroke="#bc9955"/>
<circle cx="400.2" cy="1430.2" r="11.0" stroke="#af985d"/>
<circle cx="433.1" cy="1431.6" r="11.0" stroke="#ae985d"/>
<circle cx="444.5" cy="1430.2" r="11.0" stroke="#af985d"/>
<circle cx="330.1" cy="1432.5" r="11.0" stroke="#ad985e"/>
<circle cx="326.4" cy="1452.5" r="11.0" stroke="#9e9765"/>
<circle cx="328.7" cy="1472.3" r="11.0" stroke="#8f966d"/>
<circle cx="387.5" cy="1489.0" r="11.0" stroke="#819573"/>
<circle cx="499.9" cy="1402.7" r="11.0" stroke="#c29952"/>
<circle cx="499.9" cy="1409.3" r="11.0" stroke="#bd9954"/>
<circle cx="476.9" cy="1410.4" r="11.0" stroke="#bd9955"/>
<circle cx="478.5" cy="1425.5" r="11.0" stroke="#b2985b"/>
<circle cx="478.5" cy="1428.5" r="11.0" stroke="#b0985c"/>
<circle cx="478.5" cy="1431.5" r="11.0" stroke="#ae985d"/>
<circle cx="478.5" cy="1434.5" r="11.0" stroke="#ac985f"/>
<circle cx="478.5" cy="1437.5" r="11.0" stroke="#aa9860"/>
<circle cx="458.3" cy="1443.2" r="11.0" stroke="#a59762"/>
<circle cx="492.3" cy="1447.6" r="11.0" stroke="#a29764"/>
<circle cx="449.6" cy="1457.4" r="11.0" stroke="#9b9767"/>
<circle cx="459.4" cy="1460.7" r="11.0" stroke="#989669"/>
<circle cx="459.4" cy="1467.3" r="11.0" stroke="#93966b"/>
<circle cx="459.4" cy="1470.6" r="11.0" stroke="#90966c"/>
<circle cx="474.7" cy="1462.9" r="11.0" stroke="#969669"/>
<circle cx="490.1" cy="1461.8" r="11.0" stroke="#979669"/>
<circle cx="492.3" cy="1469.5" r="11.0" stroke="#91966c"/>
<circle cx="498.8" cy="1478.2" r="11.0" stroke="#8a956f"/>
<circle cx="492.3" cy="1482.6" r="11.0" stroke="#869571"/>
<circle cx="487.9" cy="1491.4" r="11.0" stroke="#7f9574"/>
<circle cx="428.8" cy="1496.9" r="11.0" stroke="#7a9476"/>
<circle cx="462.7" cy="1491.4" r="11.0" stroke="#7f9574"/>
<circle cx="463.8" cy="1502.3" r="11.0" stroke="#759478"/>
<circle cx="485.7" cy="1503.4" r="11.0" stroke="#739478"/>
<circle cx="507.6" cy="1505.6" r="11.0" stroke="#719479"/>
<circle cx="539.3" cy="1481.5" r="11.0" stroke="#879570"/>
<circle cx="552.5" cy="1467.3" r="11.0" stroke="#93966b"/>
<circle cx="533.9" cy="1493.6" r="11.0" stroke="#7d9575"/>
<circle cx="539.3" cy="1500.1" r="11.0" stroke="#779477"/>
<circle cx="564.5" cy="1491.4" r="11.0" stroke="#7f9574"/>
<circle cx="462.8" cy="1557.3" r="11.0" stroke="#26908b"/>
<circle cx="461.7" cy="1533.2" r="11.0" stroke="#529283"/>
<circle cx="469.4" cy="1520.1" r="11.0" stroke="#62937e"/>
<circle cx="482.6" cy="1506.9" r="11.0" stroke="#70947a"/>
<circle cx="484.7" cy="1511.3" r="11.0" stroke="#6c937b"/>
<circle cx="489.1" cy="1515.7" r="11.0" stroke="#67937d"/>
<circle cx="480.4" cy="1517.9" r="11.0" stroke="#65937e"/>
<circle cx="493.5" cy="1522.3" r="11.0" stroke="#60937f"/>
<circle cx="504.4" cy="1537.6" r="11.0" stroke="#4c9285"/>
<circle cx="513.2" cy="1509.1" r="11.0" stroke="#6e947a"/>
<circle cx="513.2" cy="1515.7" r="11.0" stroke="#67937d"/>
<circle cx="513.2" cy="1522.3" r="11.0" stroke="#60937f"/>
<circle cx="517.6" cy="1526.6" r="11.0" stroke="#5b9281"/>
<circle cx="539.5" cy="1506.9" r="11.0" stroke="#70947a"/>
<circle cx="541.7" cy="1515.7" r="11.0" stroke="#67937d"/>
<circle cx="541.7" cy="1522.3" r="11.0" stroke="#60937f"/>
<circle cx="537.3" cy="1526.6" r="11.0" stroke="#5b9281"/>
<circle cx="539.5" cy="1533.2" r="11.0" stroke="#529283"/>
<circle cx="552.6" cy="1522.3" r="11.0" stroke="#60937f"/>
<circle cx="565.8" cy="1502.6" r="11.0" stroke="#749478"/>
<circle cx="456.3" cy="1465.3" r="11.0" stroke="#95966a"/>
<circle cx="632.9" cy="1429.1" r="11.0" stroke="#b0985c"/>
<circle cx="632.9" cy="1469.6" r="11.0" stroke="#91966c"/>
<circle cx="543.1" cy="1496.3" r="11.0" stroke="#7a9476"/>
<circle cx="192.8" cy="1532.9" r="11.0" stroke="#539283"/>
<circle cx="250.4" cy="1537.8" r="11.0" stroke="#4c9285"/>
<circle cx="286.1" cy="1521.0" r="11.0" stroke="#61937f"/>
<circle cx="323.8" cy="1513.0" r="11.0" stroke="#6a937c"/>
<circle cx="368.5" cy="1520.5" r="11.0" stroke="#62937e"/>
<circle cx="384.4" cy="1507.6" r="11.0" stroke="#6f947a"/>
</g>
<polyline fill="none" stroke="#000" stroke-width="1.80" stroke-dasharray="3.1 3.6" points="188.40,1218.21 193.94,1225.03 199.48,1231.67 205.03,1238.15 210.57,1244.46 216.11,1250.60 221.65,1256.60 227.20,1262.44 232.74,1268.13 238.28,1273.68 243.82,1279.09 249.37,1284.37 254.91,1289.51 260.45,1294.53 265.99,1299.42 271.54,1304.19 277.08,1308.84 282.62,1313.39 288.16,1317.81 293.70,1322.14 299.25,1326.35 304.79,1330.47 310.33,1334.48 315.87,1338.40 321.42,1342.22 326.96,1345.95 332.50,1349.60 338.04,1353.15 343.59,1356.63 349.13,1360.02 354.67,1363.32 360.21,1366.56 365.76,1369.71 371.30,1372.79 376.84,1375.80 382.38,1378.74 387.92,1381.61 393.47,1384.42 399.01,1387.16 404.55,1389.84 410.09,1392.45 415.64,1395.01 421.18,1397.50 426.72,1399.94 432.26,1402.33 437.81,1404.66 443.35,1406.93 448.89,1409.16 454.43,1411.33 459.98,1413.46 465.52,1415.54 471.06,1417.57 476.60,1419.55 482.15,1421.49 487.69,1423.39 493.23,1425.25 498.77,1427.06 504.31,1428.83 509.86,1430.57 515.40,1432.26 520.94,1433.92 526.48,1435.54 532.03,1437.13 537.57,1438.68 543.11,1440.20 548.65,1441.68 554.20,1443.13 559.74,1444.55 565.28,1445.94 570.82,1447.29 576.37,1448.62 581.91,1449.92 587.45,1451.19 592.99,1452.43 598.53,1453.64 604.08,1454.83 609.62,1455.99 615.16,1457.12 620.70,1458.24 626.25,1459.32 631.79,1460.38"/>
<polyline fill="none" stroke="#000" stroke-width="1.80" stroke-dasharray="3.1 3.6" points="188.40,1307.77 193.94,1311.22 199.48,1314.65 205.03,1318.07 210.57,1321.48 216.11,1324.87 221.65,1328.24 227.20,1331.60 232.74,1334.95 238.28,1338.27 243.82,1341.58 249.37,1344.87 254.91,1348.13 260.45,1351.38 265.99,1354.61 271.54,1357.82 277.08,1361.00 282.62,1364.16 288.16,1367.30 293.70,1370.42 299.25,1373.51 304.79,1376.58 310.33,1379.63 315.87,1382.65 321.42,1385.64 326.96,1388.61 332.50,1391.55 338.04,1394.47 343.59,1397.36 349.13,1400.22 354.67,1403.06 360.21,1405.86 365.76,1408.64 371.30,1411.40 376.84,1414.12 382.38,1416.81 387.92,1419.48 393.47,1422.12 399.01,1424.73 404.55,1427.31 410.09,1429.85 415.64,1432.37 421.18,1434.87 426.72,1437.33 432.26,1439.76 437.81,1442.16 443.35,1444.53 448.89,1446.87 454.43,1449.18 459.98,1451.46 465.52,1453.71 471.06,1455.93 476.60,1458.12 482.15,1460.28 487.69,1462.41 493.23,1464.51 498.77,1466.59 504.31,1468.63 509.86,1470.64 515.40,1472.62 520.94,1474.57 526.48,1476.49 532.03,1478.39 537.57,1480.25 543.11,1482.09 548.65,1483.89 554.20,1485.67 559.74,1487.42 565.28,1489.14 570.82,1490.83 576.37,1492.49 581.91,1494.13 587.45,1495.74 592.99,1497.32 598.53,1498.87 604.08,1500.40 609.62,1501.90 615.16,1503.37 620.70,1504.82 626.25,1506.24 631.79,1507.63"/>
<polyline fill="none" stroke="#000" stroke-width="3.6" points="188.40,1276.61 193.94,1281.10 199.48,1285.52 205.03,1289.87 210.57,1294.15 216.11,1298.37 221.65,1302.52 227.20,1306.61 232.74,1310.63 238.28,1314.59 243.82,1318.49 249.37,1322.33 254.91,1326.11 260.45,1329.83 265.99,1333.49 271.54,1337.10 277.08,1340.64 282.62,1344.14 288.16,1347.58 293.70,1350.96 299.25,1354.30 304.79,1357.58 310.33,1360.81 315.87,1363.99 321.42,1367.11 326.96,1370.20 332.50,1373.23 338.04,1376.22 343.59,1379.15 349.13,1382.05 354.67,1384.90 360.21,1387.70 365.76,1390.46 371.30,1393.18 376.84,1395.86 382.38,1398.49 387.92,1401.08 393.47,1403.63 399.01,1406.15 404.55,1408.62 410.09,1411.05 415.64,1413.45 421.18,1415.81 426.72,1418.13 432.26,1420.42 437.81,1422.67 443.35,1424.89 448.89,1427.07 454.43,1429.22 459.98,1431.33 465.52,1433.41 471.06,1435.46 476.60,1437.48 482.15,1439.47 487.69,1441.42 493.23,1443.34 498.77,1445.24 504.31,1447.10 509.86,1448.94 515.40,1450.75 520.94,1452.52 526.48,1454.28 532.03,1456.00 537.57,1457.70 543.11,1459.37 548.65,1461.01 554.20,1462.63 559.74,1464.23 565.28,1465.80 570.82,1467.34 576.37,1468.86 581.91,1470.36 587.45,1471.83 592.99,1473.28 598.53,1474.71 604.08,1476.12 609.62,1477.50 615.16,1478.86 620.70,1480.20 626.25,1481.52 631.79,1482.82"/>
<rect x="95.30" y="1100.80" width="586.20" height="485.70" fill="none" stroke="#4a4a4a" stroke-width="1.2"/>
<g stroke="#fff" stroke-width="1.3">
<line x1="132.84" y1="1099.60" x2="132.84" y2="1102.00"/>
<line x1="132.84" y1="1585.30" x2="132.84" y2="1587.70"/>
<line x1="188.40" y1="1099.60" x2="188.40" y2="1102.00"/>
<line x1="188.40" y1="1585.30" x2="188.40" y2="1587.70"/>
<line x1="243.96" y1="1099.60" x2="243.96" y2="1102.00"/>
<line x1="243.96" y1="1585.30" x2="243.96" y2="1587.70"/>
<line x1="299.52" y1="1099.60" x2="299.52" y2="1102.00"/>
<line x1="299.52" y1="1585.30" x2="299.52" y2="1587.70"/>
<line x1="355.09" y1="1099.60" x2="355.09" y2="1102.00"/>
<line x1="355.09" y1="1585.30" x2="355.09" y2="1587.70"/>
<line x1="410.65" y1="1099.60" x2="410.65" y2="1102.00"/>
<line x1="410.65" y1="1585.30" x2="410.65" y2="1587.70"/>
<line x1="466.21" y1="1099.60" x2="466.21" y2="1102.00"/>
<line x1="466.21" y1="1585.30" x2="466.21" y2="1587.70"/>
<line x1="521.77" y1="1099.60" x2="521.77" y2="1102.00"/>
<line x1="521.77" y1="1585.30" x2="521.77" y2="1587.70"/>
<line x1="577.34" y1="1099.60" x2="577.34" y2="1102.00"/>
<line x1="577.34" y1="1585.30" x2="577.34" y2="1587.70"/>
<line x1="632.90" y1="1099.60" x2="632.90" y2="1102.00"/>
<line x1="632.90" y1="1585.30" x2="632.90" y2="1587.70"/>
<line x1="94.10" y1="1565.00" x2="96.50" y2="1565.00"/>
<line x1="680.30" y1="1565.00" x2="682.70" y2="1565.00"/>
<line x1="94.10" y1="1520.77" x2="96.50" y2="1520.77"/>
<line x1="680.30" y1="1520.77" x2="682.70" y2="1520.77"/>
<line x1="94.10" y1="1476.54" x2="96.50" y2="1476.54"/>
<line x1="680.30" y1="1476.54" x2="682.70" y2="1476.54"/>
<line x1="94.10" y1="1432.31" x2="96.50" y2="1432.31"/>
<line x1="680.30" y1="1432.31" x2="682.70" y2="1432.31"/>
<line x1="94.10" y1="1388.08" x2="96.50" y2="1388.08"/>
<line x1="680.30" y1="1388.08" x2="682.70" y2="1388.08"/>
<line x1="94.10" y1="1343.85" x2="96.50" y2="1343.85"/>
<line x1="680.30" y1="1343.85" x2="682.70" y2="1343.85"/>
<line x1="94.10" y1="1299.62" x2="96.50" y2="1299.62"/>
<line x1="680.30" y1="1299.62" x2="682.70" y2="1299.62"/>
<line x1="94.10" y1="1255.39" x2="96.50" y2="1255.39"/>
<line x1="680.30" y1="1255.39" x2="682.70" y2="1255.39"/>
<line x1="94.10" y1="1211.16" x2="96.50" y2="1211.16"/>
<line x1="680.30" y1="1211.16" x2="682.70" y2="1211.16"/>
<line x1="94.10" y1="1166.93" x2="96.50" y2="1166.93"/>
<line x1="680.30" y1="1166.93" x2="682.70" y2="1166.93"/>
<line x1="94.10" y1="1122.70" x2="96.50" y2="1122.70"/>
<line x1="680.30" y1="1122.70" x2="682.70" y2="1122.70"/>
</g>
<g stroke="#4a4a4a" stroke-width="1.2">
<line x1="188.40" y1="1586.50" x2="188.40" y2="1591.20"/>
<line x1="299.52" y1="1586.50" x2="299.52" y2="1591.20"/>
<line x1="410.65" y1="1586.50" x2="410.65" y2="1591.20"/>
<line x1="521.77" y1="1586.50" x2="521.77" y2="1591.20"/>
<line x1="632.90" y1="1586.50" x2="632.90" y2="1591.20"/>
<line x1="90.60" y1="1565.00" x2="95.30" y2="1565.00"/>
<line x1="90.60" y1="1476.54" x2="95.30" y2="1476.54"/>
<line x1="90.60" y1="1388.08" x2="95.30" y2="1388.08"/>
<line x1="90.60" y1="1299.62" x2="95.30" y2="1299.62"/>
<line x1="90.60" y1="1211.16" x2="95.30" y2="1211.16"/>
<line x1="90.60" y1="1122.70" x2="95.30" y2="1122.70"/>
</g>
<g font-family='"Liberation Sans", Arial, Helvetica, sans-serif' font-size="32" fill="#000">
<text transform="translate(188.40,1618.30) scale(0.9569,1)" font-size="33.44" text-anchor="middle">10</text>
<text transform="translate(299.52,1618.30) scale(0.9569,1)" font-size="33.44" text-anchor="middle">15</text>
<text transform="translate(410.65,1618.30) scale(0.9569,1)" font-size="33.44" text-anchor="middle">20</text>
<text transform="translate(521.77,1618.30) scale(0.9569,1)" font-size="33.44" text-anchor="middle">25</text>
<text transform="translate(632.90,1618.30) scale(0.9569,1)" font-size="33.44" text-anchor="middle">30</text>
<text transform="translate(87.00,1576.60) scale(0.9569,1)" font-size="33.44" text-anchor="end">0.0</text>
<text transform="translate(87.00,1488.14) scale(0.9569,1)" font-size="33.44" text-anchor="end">1.0</text>
<text transform="translate(87.00,1399.68) scale(0.9569,1)" font-size="33.44" text-anchor="end">2.0</text>
<text transform="translate(87.00,1311.22) scale(0.9569,1)" font-size="33.44" text-anchor="end">3.0</text>
<text transform="translate(87.00,1222.76) scale(0.9569,1)" font-size="33.44" text-anchor="end">4.0</text>
<text transform="translate(87.00,1134.30) scale(0.9569,1)" font-size="33.44" text-anchor="end">5.0</text>
</g>
<g font-family='"Liberation Sans", Arial, Helvetica, sans-serif' font-weight="bold" font-size="26" fill="#000">
<text transform="translate(111.60,25.20) scale(0.9569,1)" font-size="27.17">a</text>
<text transform="translate(111.40,570.50) scale(0.9569,1)" font-size="27.17">b</text>
<text transform="translate(103.20,1124.80) scale(0.9569,1)" font-size="27.17">c</text>
</g>
<g font-family='"Liberation Sans", Arial, Helvetica, sans-serif' fill="#000" transform="translate(0,0)">
<text transform="translate(507.60,587.40) scale(0.9569,1)" font-size="34.80">Q</text>
<text transform="translate(534.40,595.00) scale(0.9569,1)" font-size="23.51">10</text>
<text transform="translate(566.00,587.40) scale(0.9569,1)" font-size="34.80">=</text>
<text transform="translate(660.20,587.40) scale(0.9569,1)" font-size="34.80" text-anchor="end">1.93</text>
</g>
<g font-family='"Liberation Sans", Arial, Helvetica, sans-serif' fill="#000" transform="translate(-8.1,557.0)">
<text transform="translate(507.60,587.40) scale(0.9569,1)" font-size="34.80">Q</text>
<text transform="translate(534.40,595.00) scale(0.9569,1)" font-size="23.51">10</text>
<text transform="translate(566.00,587.40) scale(0.9569,1)" font-size="34.80">=</text>
<text transform="translate(660.20,587.40) scale(0.9569,1)" font-size="34.80" text-anchor="end">1.93</text>
</g>
<g font-family='"Liberation Sans", Arial, Helvetica, sans-serif' font-size="34" fill="#000">
<text transform="translate(36.20,348.50) rotate(-90) scale(0.9569,1)" font-size="35.53">Soil <tspan dx="2.5">δ</tspan><tspan font-size="22.47" dy="-10.5">15</tspan><tspan dy="10.5">N (‰)</tspan></text>
<text transform="translate(27.60,958.30) rotate(-90) scale(0.9569,1)" font-size="35.53">Soil N concentration (%)</text>
<text transform="translate(26.00,1491.00) rotate(-90) scale(0.9569,1)" font-size="35.53">Soil N pool (kg m<tspan font-size="23.51" dy="-9.3">2</tspan><tspan dy="9.3">)</tspan></text>
<text transform="translate(303.00,1676.50) scale(0.9569,1)" font-size="35.53">MAT (°C)</text>
</g>
</svg>
</body></html>
